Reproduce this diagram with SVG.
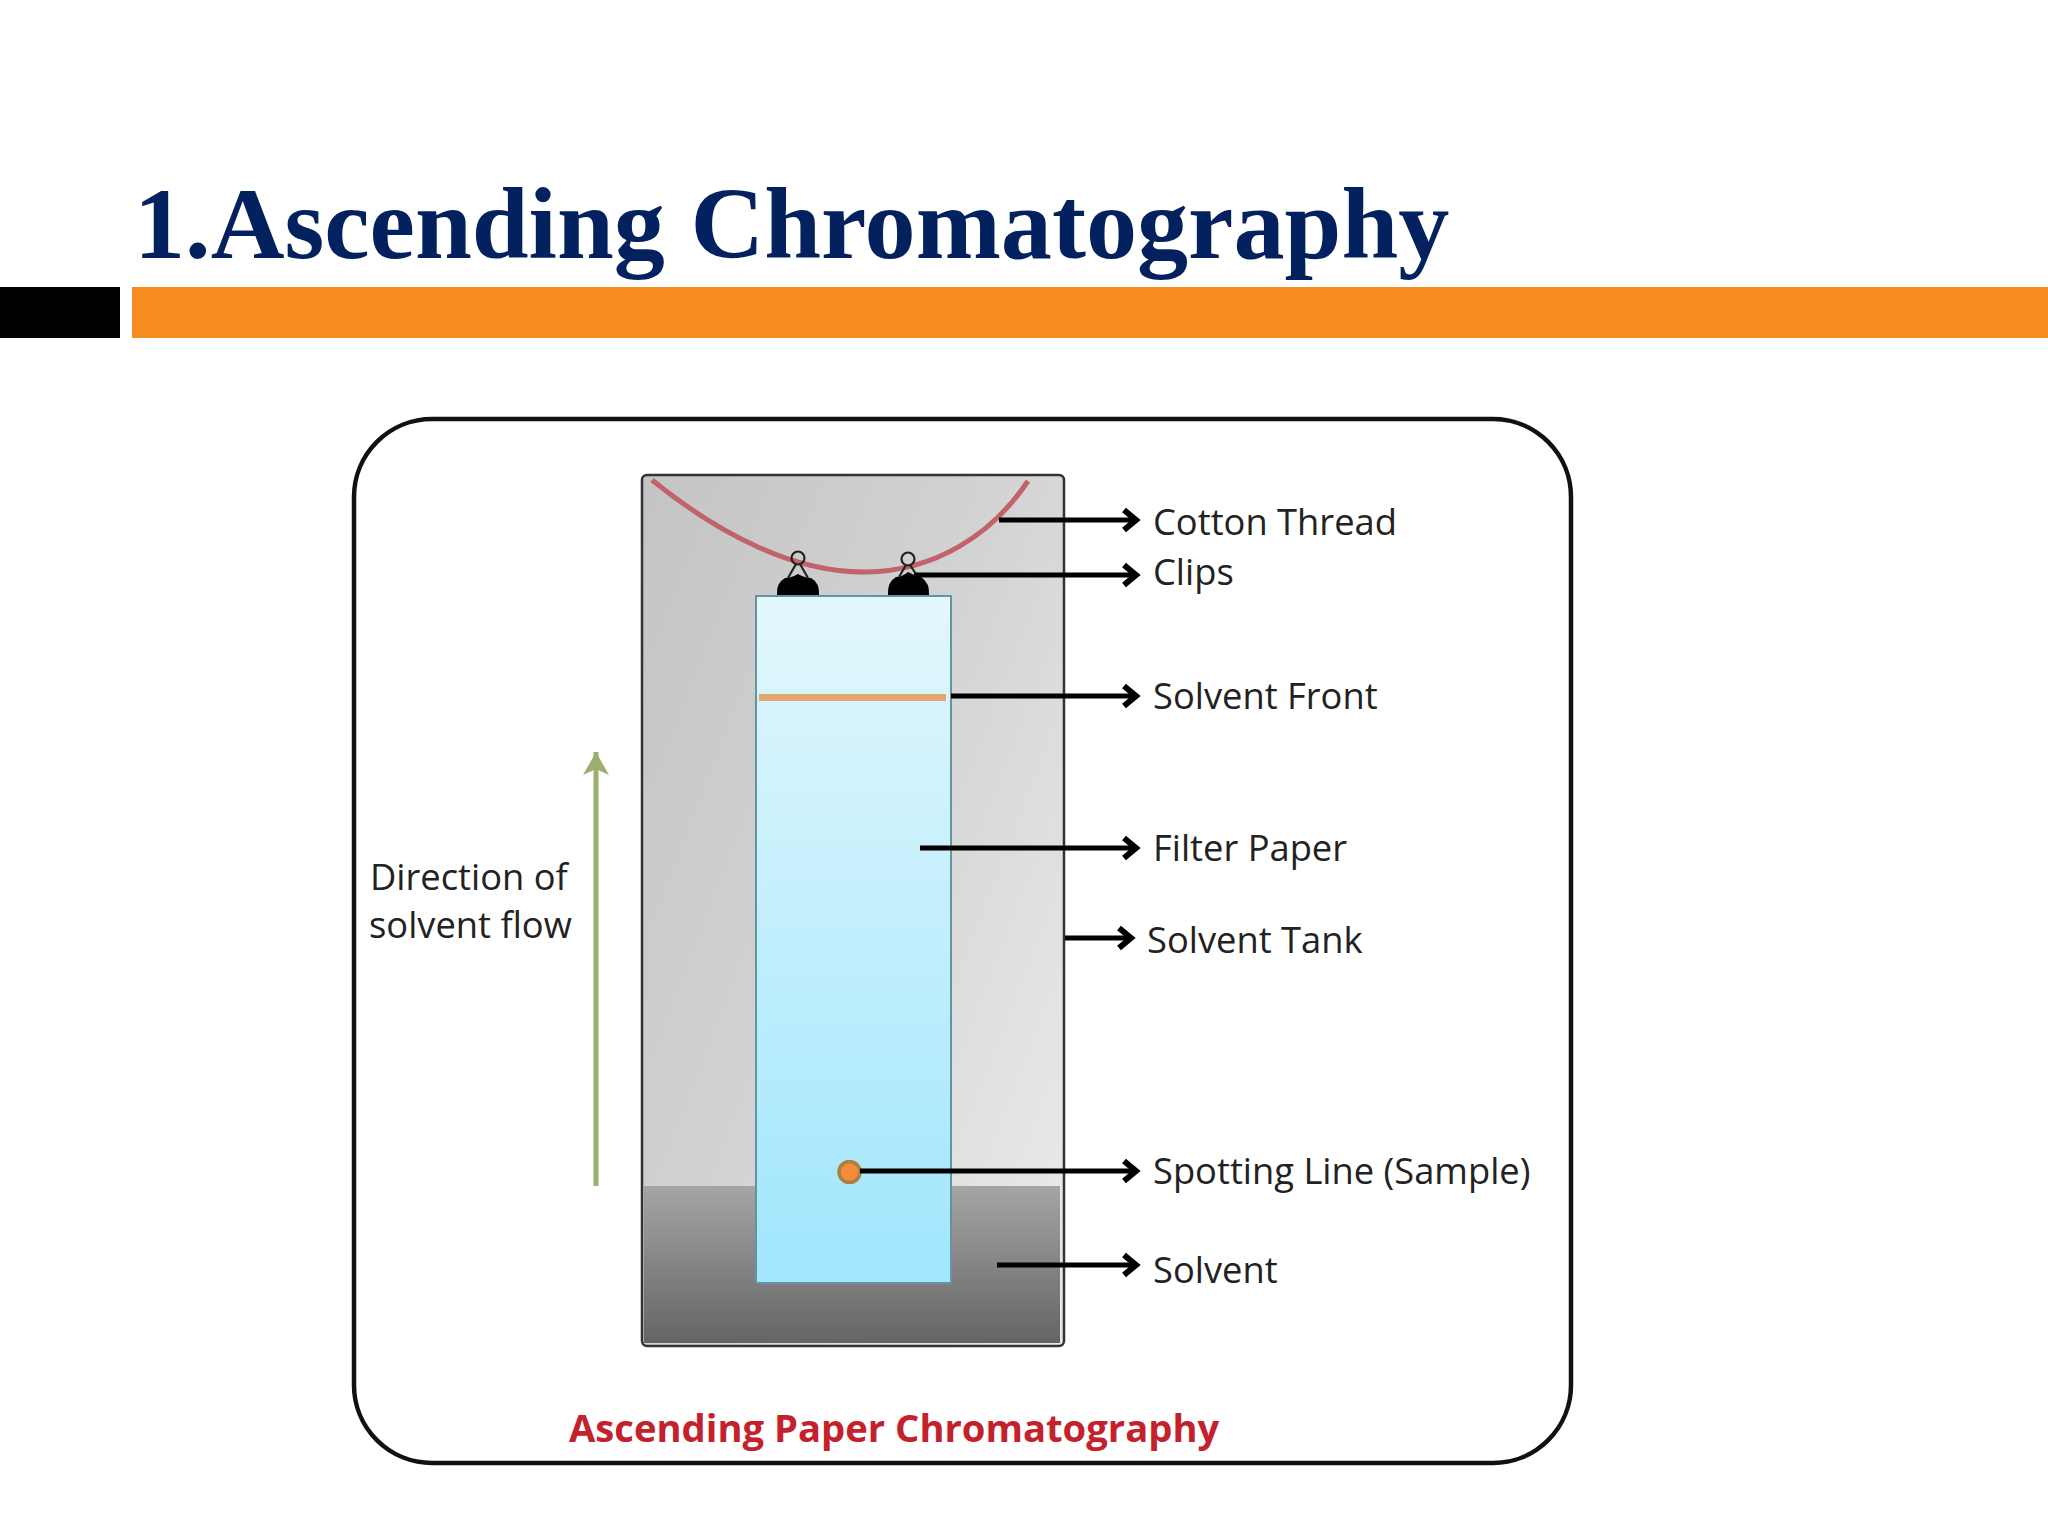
<svg xmlns="http://www.w3.org/2000/svg" width="2048" height="1536" viewBox="0 0 2048 1536">
<style>
.lbl{font-family:"Open Sans","Noto Sans",sans-serif;font-size:36.300px;fill:#222}
.con{stroke:#000;stroke-width:5;fill:none;marker-end:url(#ah)}
</style>
<defs>
<marker id="ah" markerUnits="userSpaceOnUse" markerWidth="24" markerHeight="28" refX="20" refY="14" orient="auto"><path d="M7 4 L19 14 L7 24" fill="none" stroke="#000" stroke-width="6"/></marker>
<marker id="gh" markerUnits="userSpaceOnUse" markerWidth="30" markerHeight="32" refX="26" refY="16" orient="auto"><path d="M3 3 L26 16 L3 29 L9 16 Z" fill="#9bb070"/></marker>
<linearGradient id="tankg" x1="0" y1="0" x2="1" y2="0.8"><stop offset="0" stop-color="#c4c4c4"/><stop offset="0.5" stop-color="#d2d2d2"/><stop offset="1" stop-color="#e8e8e8"/></linearGradient>
<linearGradient id="solg" x1="0" y1="0" x2="0" y2="1"><stop offset="0" stop-color="#a6a5a6"/><stop offset="1" stop-color="#656465"/></linearGradient>
<linearGradient id="papg" x1="0" y1="0" x2="0" y2="1"><stop offset="0" stop-color="#e2f7fc"/><stop offset="1" stop-color="#a0e6fd"/></linearGradient>
<filter id="soft" x="-5%" y="-5%" width="110%" height="110%"><feGaussianBlur stdDeviation="0.7"/></filter>
</defs>
<rect width="2048" height="1536" fill="#fff"/>
<g id="title"><text x="134" y="258" font-family="'Liberation Serif',serif" font-weight="700" font-size="102.200" fill="#03215f">1.Ascending Chromatography</text></g>
<g id="title-bar"><rect x="0" y="287" width="120" height="51" fill="#000"/><rect x="132" y="287" width="1916" height="51" fill="#f68b1f"/></g>
<g id="frame"><rect x="354" y="419" width="1217" height="1044" rx="78" fill="#fff" stroke="#111" stroke-width="4.500"/></g>
<g id="solvent-tank">
<rect x="642" y="475" width="422" height="871" rx="5" fill="url(#tankg)" stroke="#333" stroke-width="2.500"/>
<rect x="644" y="1186" width="416" height="157" fill="url(#solg)" filter="url(#soft)"/>
</g>
<g id="cotton-thread" filter="url(#soft)"><path d="M652 480 C720 535 795 573 866 572 C935 571 992 535 1028 481" fill="none" stroke="#c0636a" stroke-width="5"/></g>
<g id="clips" filter="url(#soft)">
<g fill="#000"><path d="M777 595 Q776 583 785 578 Q791 578 798 574 Q805 578 811 578 Q820 583 819 595 Z"/><path d="M888 595 Q887 582 896 577 Q902 577 908 572 Q915 576 921 577 Q930 583 929 595 Z"/></g>
<g fill="none" stroke="#222" stroke-width="2.200"><circle cx="798" cy="558" r="6.500"/><path d="M796 564 L788 578 M800 564 L808 578"/><circle cx="908" cy="559" r="6.500"/><path d="M906 565 L899 577 M910 565 L918 577"/></g>
</g>
<g id="filter-paper" filter="url(#soft)">
<rect x="756" y="596" width="195" height="687" fill="url(#papg)" stroke="#64949f" stroke-width="2"/>
</g>
<g id="solvent-front" filter="url(#soft)"><rect x="759" y="694" width="187" height="7" fill="#e1a76c"/></g>
<g id="spotting-line" filter="url(#soft)"><circle cx="849.500" cy="1172" r="10.500" fill="#f58a3a" stroke="#a9803f" stroke-width="3.500"/></g>
<g id="connectors">
<path class="con" d="M999 520 H1137"/>
<path class="con" d="M914 575 H1137"/>
<path class="con" d="M951 696 H1137"/>
<path class="con" d="M920 848 H1137"/>
<path class="con" d="M1065 938 H1132"/>
<path class="con" d="M860 1171 H1137"/>
<path class="con" d="M997 1265 H1137"/>
<path d="M596 1186 V752" stroke="#9bb070" stroke-width="5" fill="none" marker-end="url(#gh)"/>
</g>
<g id="labels">
<text class="lbl" x="1153" y="535">Cotton Thread</text>
<text class="lbl" x="1153" y="585">Clips</text>
<text class="lbl" x="1153" y="709">Solvent Front</text>
<text class="lbl" x="1153" y="861">Filter Paper</text>
<text class="lbl" x="1147" y="953">Solvent Tank</text>
<text class="lbl" x="1153" y="1184">Spotting Line (Sample)</text>
<text class="lbl" x="1153" y="1283">Solvent</text>
<text class="lbl" x="370" y="890">Direction of</text>
<text class="lbl" x="369" y="938">solvent flow</text>
</g>
<g id="caption"><text x="569" y="1442" font-family="'Open Sans','Noto Sans',sans-serif" font-weight="700" font-size="38.200" fill="#c3222c">Ascending Paper Chromatography</text></g>
</svg>
